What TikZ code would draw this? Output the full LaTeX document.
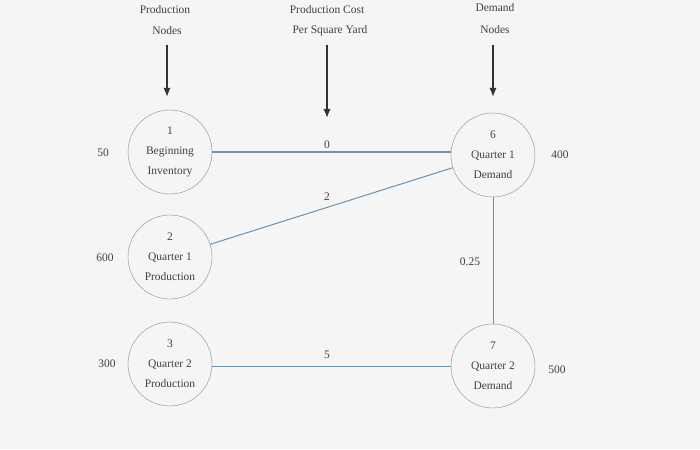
\documentclass[tikz,border=0pt]{standalone}
\usepackage{fontspec}
\usetikzlibrary{arrows.meta}
\setmainfont{Liberation Serif}
\begin{document}
\begin{tikzpicture}[x=1pt,y=-1pt,font=\fontsize{11.5}{13}\selectfont,
  txt/.style={text=black!75},
  nd/.style={circle,draw=black!45,minimum size=84pt,align=center,inner sep=0pt,text=black!75,font=\fontsize{11.5}{20}\selectfont},
  con/.style={draw=blue!40!cyan!50!black!60,line width=1pt},
  arr/.style={-{Latex[length=9pt,width=7pt]},line width=1.3pt,black!80}]
\fill[black!4] (0,0) rectangle (700,449);
\useasboundingbox (0,0) rectangle (700,449);
\node[txt] (h1) at (165,10) {Production};
\node[txt] (h1b) at (167,31) {Nodes};
\node[txt] (h2) at (327,10) {Production Cost};
\node[txt] (h2b) at (330,31) {Per Square Yard};
\node[txt] (h3) at (495,8) {Demand};
\node[txt] (h3b) at (495,30) {Nodes};
\node[nd] (n1) at (170,152) {1\\Beginning\\Inventory};
\node[nd] (n2) at (170,257) {2\\Quarter 1\\Production};
\node[nd] (n3) at (170,364) {3\\Quarter 2\\Production};
\node[nd] (n6) at (493,155) {6\\Quarter 1\\Demand};
\node[nd] (n7) at (493,366) {7\\Quarter 2\\Demand};
\coordinate (a1) at (167,45); \coordinate (a1e) at (167,97);
\coordinate (a2) at (327,45); \coordinate (a2e) at (327,118);
\coordinate (a3) at (493,45); \coordinate (a3e) at (493,97);
\draw[arr] (a1) -- (a1e);
\draw[arr] (a2) -- (a2e);
\draw[arr] (a3) -- (a3e);
\draw[con] (n1.east |- 0,152) -- (n6.west |- 0,152);
\draw[con] (n2) -- (n6);
\draw[con] (n3.east |- 0,366) -- (n7.west |- 0,366);
\draw[con] (n6) -- (n7);
\node[txt] (c1) at (327,145) {0};
\node[txt] (c2) at (327,197) {2};
\node[txt] (c3) at (327,355) {5};
\node[txt] (c4) at (470,262) {0.25};
\node[txt] (s1) at (103,153) {50};
\node[txt] (s2) at (105,258) {600};
\node[txt] (s3) at (107,364) {300};
\node[txt] (d1) at (560,155) {400};
\node[txt] (d2) at (557,370) {500};
\end{tikzpicture}
\end{document}
